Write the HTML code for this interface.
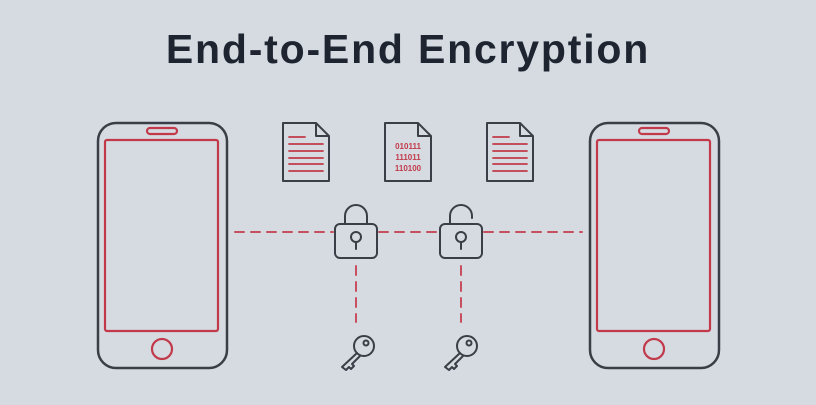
<!DOCTYPE html>
<html><head><style>
html,body{margin:0;padding:0}
body{width:816px;height:405px;background:#d6dbe2;position:relative;overflow:hidden;font-family:"Liberation Sans",sans-serif}
h1{position:absolute;top:26px;left:0;width:816px;text-align:center;margin:0;font-size:41px;font-weight:bold;color:#1e2430;letter-spacing:1.8px}
</style></head><body>
<h1>End-to-End Encryption</h1>
<svg width="816" height="405" style="position:absolute;left:0;top:0" fill="none" stroke-linecap="round" stroke-linejoin="round">
<g stroke="#3a3e46" stroke-width="2.5">
<rect x="98" y="123" width="129" height="245" rx="18"/>
<rect x="590" y="123" width="129" height="245" rx="18"/>
</g>
<g stroke="#c23a4a" stroke-width="2.2">
<rect x="105" y="140" width="113" height="191" rx="2"/>
<rect x="597" y="140" width="113" height="191" rx="2"/>
<rect x="147" y="128" width="30" height="6" rx="3"/>
<rect x="639" y="128" width="30" height="6" rx="3"/>
<circle cx="162" cy="349" r="10"/>
<circle cx="654" cy="349" r="10"/>
</g>
<g stroke="#3a3e46" stroke-width="2">
<path d="M283 123 H316 L329 136 V181 H283 Z M316 123 V136 H329"/>
<path d="M385 123 H418 L431 136 V181 H385 Z M418 123 V136 H431"/>
<path d="M487 123 H520 L533 136 V181 H487 Z M520 123 V136 H533"/>
</g>
<g stroke="#c23a4a" stroke-width="1.8">
<path d="M289 137H305 M289 144H323 M289 151H323 M289 158H323 M289 164H323 M289 171H323"/>
<path d="M493 137H509 M493 144H527 M493 151H527 M493 158H527 M493 164H527 M493 171H527"/>
</g>
<g fill="#c23a4a" font-family="Liberation Sans" font-weight="bold" font-size="8" text-anchor="middle">
<text x="408" y="149">010111</text><text x="408" y="160">111011</text><text x="408" y="171">110100</text>
</g>
<g stroke="#c8505e" stroke-width="2" stroke-dasharray="9 7">
<path d="M235 232H333 M379 232H438 M484 232H582"/>
<path d="M356 266V322 M461 266V322"/>
</g>
<g stroke="#3a3e46" stroke-width="2">
<rect x="335" y="224" width="42" height="34" rx="5"/>
<path d="M345 224V216a11 11 0 0 1 22 0V224"/>
<circle cx="356" cy="237" r="5"/><path d="M356 242V249"/>
<rect x="440" y="224" width="42" height="34" rx="5"/>
<path d="M450 224V216a11 11 0 0 1 22 0V218"/>
<circle cx="461" cy="237" r="5"/><path d="M461 242V249"/>
<circle cx="364" cy="346" r="10"/><circle cx="366" cy="343" r="2.5"/>
<path d="M357 353L342 367L346 370L349 367L351 369L354 366L352 364L360 356"/>
<circle cx="467" cy="346" r="10"/><circle cx="469" cy="343" r="2.5"/>
<path d="M460 353L445 367L449 370L452 367L454 369L457 366L455 364L463 356"/>
</g>
</svg>
</body></html>
